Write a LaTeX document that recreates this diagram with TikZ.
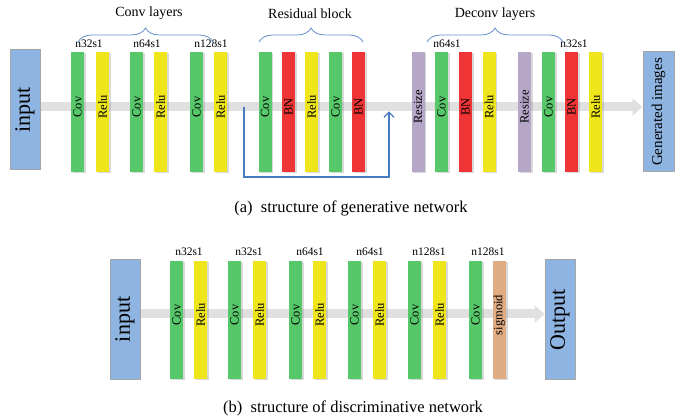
\documentclass[tikz,border=0pt]{standalone}
\usepackage{fontspec}
\setmainfont{Liberation Serif}
\usetikzlibrary{arrows.meta,backgrounds,shadows,decorations.pathreplacing}

\definecolor{covgreen}{RGB}{86,200,106}
\definecolor{reluyellow}{RGB}{238,230,26}
\definecolor{bnred}{RGB}{238,52,52}
\definecolor{resizepurple}{RGB}{182,166,200}
\definecolor{sigorange}{RGB}{224,172,132}
\definecolor{boxblue}{RGB}{142,180,226}
\definecolor{boxgray}{RGB}{165,165,165}
\definecolor{skipblue}{RGB}{72,122,192}
\definecolor{bandgray}{RGB}{224,224,224}

\tikzset{
	barlabel/.style={rotate=90, inner sep=0pt, font=\fontsize{12.5}{14}\selectfont,
		execute at begin node=\hspace*{10pt}},
	layer/.style={minimum width=13pt, minimum height=120pt, inner sep=0pt,
		drop shadow={shadow xshift=1.5pt, shadow yshift=-1.2pt, opacity=0.3}},
	cov/.style={layer, fill=covgreen, label={[barlabel]center:Cov}},
	relu/.style={layer, fill=reluyellow, label={[barlabel]center:Relu}},
	bn/.style={layer, fill=bnred, label={[barlabel]center:BN}},
	resize/.style={layer, fill=resizepurple, label={[barlabel]center:Resize}},
	sig/.style={layer, fill=sigorange, label={[barlabel]center:sigmoid}},
	iobox/.style={rotate=90, minimum width=120pt, minimum height=30pt, inner sep=0pt,
		fill=boxblue, draw=boxgray, line width=1pt},
	band/.style={bandgray, line width=9pt, -{Triangle[width=17pt,length=10pt]}},
	size/.style={font=\fontsize{11.5}{13}\selectfont},
	brace/.style={decorate, decoration={brace, amplitude=14pt}, skipblue!85, line width=0.8pt},
	group/.style={font=\fontsize{14}{16}\selectfont},
	caption/.style={font=\fontsize{16.5}{19}\selectfont}
}

\begin{document}
\begin{tikzpicture}[x=1pt, y=1pt]
	%%%%% FRAME %%%%%
	\useasboundingbox (0,0) rectangle (685,419);

	%%%%% GENERATIVE NETWORK %%%%%
	\node[iobox, font=\fontsize{22}{24}\selectfont] (gin) at (25,309) {input};
	\node[iobox, minimum height=31pt, font=\fontsize{15}{17}\selectfont] (gout) at (658.5,307) {Generated images};

	\node[cov] (gcov1) at (77.5,307) {};
	\node[relu] (grelu1) at (102.5,307) {};
	\node[cov] (gcov2) at (136.5,307) {};
	\node[relu] (grelu2) at (160.5,307) {};
	\node[cov] (gcov3) at (196.5,307) {};
	\node[relu] (grelu3) at (220.5,307) {};

	\node[cov] (rcov1) at (265,307) {};
	\node[bn] (rbn1) at (288.5,307) {};
	\node[relu] (rrelu) at (311.5,307) {};
	\node[cov] (rcov2) at (335.5,307) {};
	\node[bn] (rbn2) at (358.5,307) {};

	\node[resize] (zres1) at (418,307) {};
	\node[cov] (zcov1) at (441.5,307) {};
	\node[bn] (zbn1) at (465.5,307) {};
	\node[relu] (zrelu1) at (489,307) {};
	\node[resize] (zres2) at (524.5,307) {};
	\node[cov] (zcov2) at (548.5,307) {};
	\node[bn] (zbn2) at (571.5,307) {};
	\node[relu] (zrelu2) at (595.5,307) {};

	\begin{scope}[on background layer]
		\draw[band] ([yshift=3pt]gin.south) -- ([yshift=5pt]gout.north);
	\end{scope}

	% skip connection of the residual block
	\coordinate (skipin) at (244,312);
	\coordinate (skipout) at (389,307.5);
	\draw[skipblue, line width=1.2pt, -{Straight Barb[length=5pt,width=10pt]}] (skipin) -- (244,242) -| (skipout);

	\node[size] (s1) at (89,375) {n32s1};
	\node[size] (s2) at (147,375) {n64s1};
	\node[size] (s3) at (211,375) {n128s1};
	\node[size] (s4) at (447,375) {n64s1};
	\node[size] (s5) at (574,375) {n32s1};

	\draw[brace] (78,377) -- (213,377);
	\draw[brace] (259,377) -- (363,377);
	\draw[brace] (427,377) -- (563,377);
	\node[group] (conv) at (149,406) {Conv layers};
	\node[group] (resid) at (310,405) {Residual block};
	\node[group] (deconv) at (495,405) {Deconv layers};

	\node[caption] (capa) at (351,211) {(a)\enspace structure of generative network};

	%%%%% DISCRIMINATIVE NETWORK %%%%%
	\node[iobox, font=\fontsize{22}{24}\selectfont] (din) at (125,99.5) {input};
	\node[iobox, font=\fontsize{22}{24}\selectfont] (dout) at (560,99.5) {Output};

	\node[cov, minimum height=118pt] (dcov1) at (176.5,99) {};
	\node[relu, minimum height=118pt] (drelu1) at (200.5,99) {};
	\node[cov, minimum height=118pt] (dcov2) at (234.5,99) {};
	\node[relu, minimum height=118pt] (drelu2) at (259.5,99) {};
	\node[cov, minimum height=118pt] (dcov3) at (295.5,99) {};
	\node[relu, minimum height=118pt] (drelu3) at (319.5,99) {};
	\node[cov, minimum height=118pt] (dcov4) at (354.5,99) {};
	\node[relu, minimum height=118pt] (drelu4) at (379.5,99) {};
	\node[cov, minimum height=118pt] (dcov5) at (414.5,99) {};
	\node[relu, minimum height=118pt] (drelu5) at (439.5,99) {};
	\node[cov, minimum height=118pt] (dcov6) at (475.5,99) {};
	\node[sig, minimum height=118pt] (dsig) at (499.5,99) {};

	\begin{scope}[on background layer]
		\draw[band] ([yshift=5.5pt]din.south) -- ([yshift=5.5pt]dout.north);
	\end{scope}

	\node[size] (t1) at (189,167) {n32s1};
	\node[size] (t2) at (249,167) {n32s1};
	\node[size] (t3) at (310,167) {n64s1};
	\node[size] (t4) at (370,167) {n64s1};
	\node[size] (t5) at (429,167) {n128s1};
	\node[size] (t6) at (488,167) {n128s1};

	\node[caption] (capb) at (353,11) {(b)\enspace structure of discriminative network};
\end{tikzpicture}
\end{document}
